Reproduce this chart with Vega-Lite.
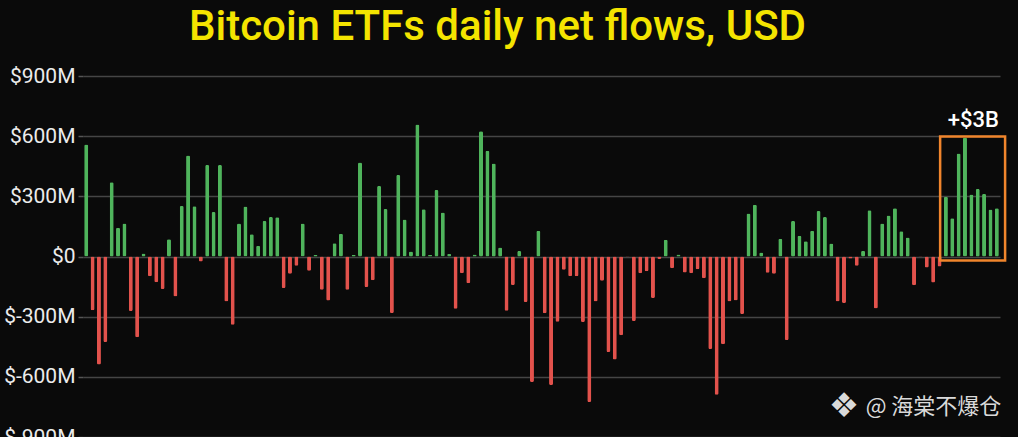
{
  "$schema": "https://vega.github.io/schema/vega-lite/v6.json",
  "autosize": "none",
  "width": 917,
  "height": 361,
  "padding": {"left": 83, "top": 76, "right": 18, "bottom": 0},
  "background": "#0a0a0a",
  "config": {"view": {"stroke": null}},
  "title": {
    "text": "Bitcoin ETFs daily net flows, USD",
    "font": "Roboto",
    "fontSize": 42,
    "fontWeight": 500,
    "color": "#f4e400",
    "anchor": "middle",
    "frame": "group",
    "dx": -44,
    "baseline": "alphabetic",
    "offset": -17
  },
  "datasets": {
    "flows": [
      {"d":1,"v":558},{"d":2,"v":-268},{"d":3,"v":-539},{"d":4,"v":-426},{"d":5,"v":370},{"d":6,"v":143},{"d":7,"v":164},{"d":8,"v":-272},{"d":9,"v":-403},{"d":10,"v":15},
      {"d":11,"v":-99},{"d":12,"v":-129},{"d":13,"v":-162},{"d":14,"v":86},{"d":15,"v":-199},{"d":16,"v":252},{"d":17,"v":504},{"d":18,"v":250},{"d":19,"v":-25},{"d":20,"v":456},
      {"d":21,"v":222},{"d":22,"v":456},{"d":23,"v":-224},{"d":24,"v":-340},{"d":25,"v":164},{"d":26,"v":249},{"d":27,"v":111},{"d":28,"v":53},{"d":29,"v":177},{"d":30,"v":197},
      {"d":31,"v":196},{"d":32,"v":-157},{"d":33,"v":-86},{"d":34,"v":-46},{"d":35,"v":164},{"d":36,"v":-71},{"d":37,"v":8},{"d":38,"v":-166},{"d":39,"v":-220},{"d":40,"v":66},
      {"d":41,"v":113},{"d":42,"v":-166},{"d":43,"v":8},{"d":44,"v":469},{"d":45,"v":-152},{"d":46,"v":-119},{"d":47,"v":351},{"d":48,"v":237},{"d":49,"v":-282},{"d":50,"v":406},
      {"d":51,"v":184},{"d":52,"v":25},{"d":53,"v":658},{"d":54,"v":235},{"d":55,"v":8},{"d":56,"v":331},{"d":57,"v":219},{"d":58,"v":12},{"d":59,"v":-260},{"d":60,"v":-83},
      {"d":61,"v":-133},{"d":62,"v":10},{"d":63,"v":625},{"d":64,"v":527},{"d":65,"v":464},{"d":66,"v":45},{"d":67,"v":-270},{"d":68,"v":-142},{"d":69,"v":27},{"d":70,"v":-227},
      {"d":71,"v":-626},{"d":72,"v":129},{"d":73,"v":-283},{"d":74,"v":-641},{"d":75,"v":-325},{"d":76,"v":-66},{"d":77,"v":-99},{"d":78,"v":-99},{"d":79,"v":-326},{"d":80,"v":-726},
      {"d":81,"v":-224},{"d":82,"v":-121},{"d":83,"v":-476},{"d":84,"v":-514},{"d":85,"v":-393},{"d":86,"v":-3},{"d":87,"v":-321},{"d":88,"v":-83},{"d":89,"v":-73},{"d":90,"v":-207},
      {"d":91,"v":-12},{"d":92,"v":83},{"d":93,"v":-58},{"d":94,"v":10},{"d":95,"v":-80},{"d":96,"v":-83},{"d":97,"v":-63},{"d":98,"v":-108},{"d":99,"v":-461},{"d":100,"v":-689},
      {"d":101,"v":-437},{"d":102,"v":-224},{"d":103,"v":-219},{"d":104,"v":-287},{"d":105,"v":215},{"d":106,"v":258},{"d":107,"v":20},{"d":108,"v":-81},{"d":109,"v":-86},{"d":110,"v":88},
      {"d":111,"v":-416},{"d":112,"v":177},{"d":113,"v":104},{"d":114,"v":76},{"d":115,"v":129},{"d":116,"v":227},{"d":117,"v":197},{"d":118,"v":65},{"d":119,"v":-224},{"d":120,"v":-232},
      {"d":121,"v":-10},{"d":122,"v":-46},{"d":123,"v":28},{"d":124,"v":230},{"d":125,"v":-259},{"d":126,"v":164},{"d":127,"v":205},{"d":128,"v":241},{"d":129,"v":126},{"d":130,"v":95},
      {"d":131,"v":-143},{"d":132,"v":-3},{"d":133,"v":-55},{"d":134,"v":-130},{"d":135,"v":-50},{"d":136,"v":298},{"d":137,"v":191},{"d":138,"v":514},{"d":139,"v":593},{"d":140,"v":309},
      {"d":141,"v":336},{"d":142,"v":312},{"d":143,"v":234},{"d":144,"v":241}
    ]
  },
  "layer": [
    {
      "data": {"name": "flows"},
      "mark": {"type": "bar", "cornerRadius": 1.5},
      "encoding": {
        "x": {"field": "d", "type": "ordinal", "sort": null, "scale": {"paddingInner": 0.37}, "axis": null},
        "y": {
          "field": "v", "type": "quantitative",
          "scale": {"domain": [-900, 900], "nice": false, "zero": true},
          "axis": {
            "title": null,
            "values": [-900, -600, -300, 0, 300, 600, 900],
            "labelExpr": "'$' + (datum.value == 0 ? '0' : datum.value + 'M')",
            "labelFont": "Roboto",
            "labelFontSize": 21,
            "labelColor": "#ececec",
            "labelPadding": 3,
            "tickColor": "#555555",
            "tickSize": 5,
            "tickWidth": 1.5,
            "domain": false,
            "grid": true,
            "gridColor": "#454545",
            "gridWidth": 1.5
          }
        },
        "color": {"condition": {"test": "datum.v < 0", "value": "#e2524c"}, "value": "#4fb45c"}
      }
    },
    {
      "data": {"values": [{"x1": 135.1, "x2": 145.3, "y1": 598, "y2": -20}]},
      "mark": {"type": "rect", "filled": false, "stroke": "#f0852c", "strokeWidth": 2.5, "clip": false},
      "encoding": {
        "x": {"field": "x1", "type": "quantitative", "scale": {"domain": [0.5, 144.5], "nice": false, "zero": false}, "axis": null},
        "x2": {"field": "x2"},
        "y": {"field": "y1", "type": "quantitative", "scale": {"domain": [-900, 900], "nice": false}},
        "y2": {"field": "y2"}
      }
    },
    {
      "data": {"values": [{"x": 140.3, "y": 680, "label": "+$3B"}]},
      "mark": {"type": "text", "font": "Roboto", "fontSize": 22, "fontWeight": 500, "color": "#ffffff", "align": "center", "baseline": "middle"},
      "encoding": {
        "x": {"field": "x", "type": "quantitative", "scale": {"domain": [0.5, 144.5], "nice": false, "zero": false}, "axis": null},
        "y": {"field": "y", "type": "quantitative", "scale": {"domain": [-900, 900], "nice": false}},
        "text": {"field": "label"}
      }
    },
    {
      "data": {"values": [{"x": 123.4, "y": -750, "label": "@ 海棠不爆仓"}]},
      "mark": {"type": "text", "font": "Noto Sans CJK SC", "fontSize": 22, "color": "#dadada", "align": "left", "baseline": "middle"},
      "encoding": {
        "x": {"field": "x", "type": "quantitative", "scale": {"domain": [0.5, 144.5], "nice": false, "zero": false}, "axis": null},
        "y": {"field": "y", "type": "quantitative", "scale": {"domain": [-900, 900], "nice": false}},
        "text": {"field": "label"}
      }
    },
    {
      "data": {"values": [{"x": 120.0, "y": -752, "label": "❖"}]},
      "mark": {"type": "text", "font": "DejaVu Sans", "fontSize": 34, "color": "#dadada", "align": "center", "baseline": "middle"},
      "encoding": {
        "x": {"field": "x", "type": "quantitative", "scale": {"domain": [0.5, 144.5], "nice": false, "zero": false}, "axis": null},
        "y": {"field": "y", "type": "quantitative", "scale": {"domain": [-900, 900], "nice": false}},
        "text": {"field": "label"}
      }
    }
  ],
  "resolve": {"scale": {"x": "independent"}, "axis": {"x": "independent"}}
}
